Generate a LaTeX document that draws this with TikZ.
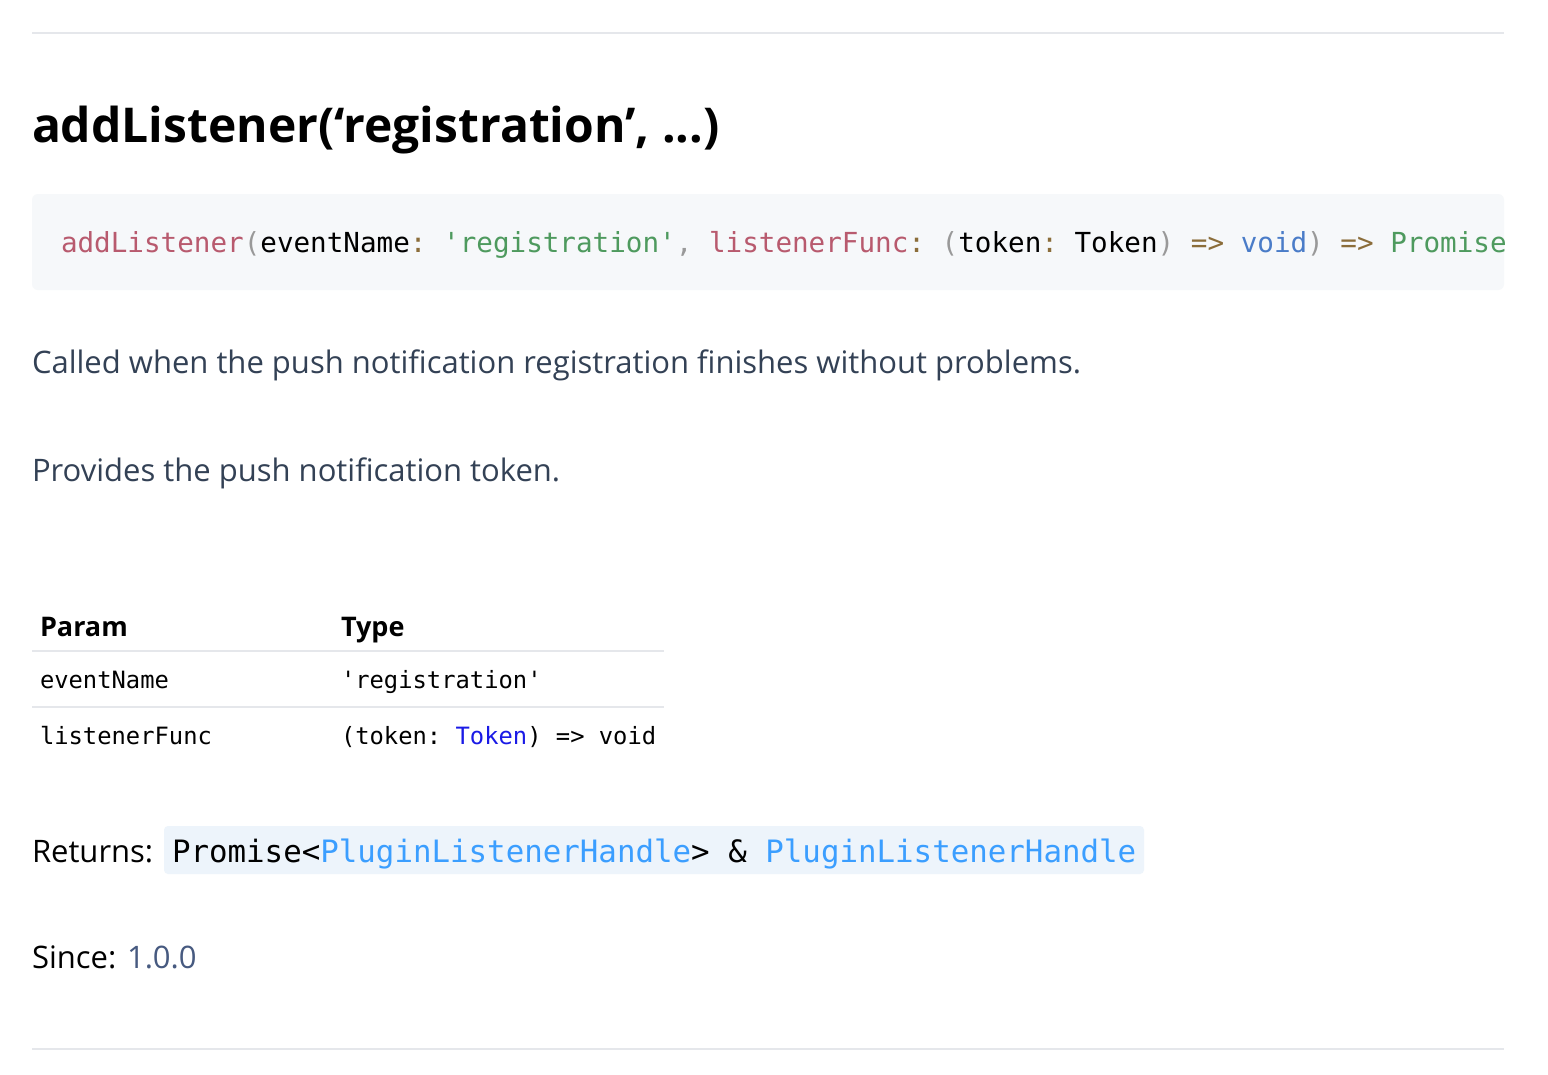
\documentclass[tikz,border=0pt]{standalone}
\usepackage{fontspec}
\setmainfont{Open Sans}
\setmonofont{DejaVu Sans Mono}
\definecolor{rule}{HTML}{E5E7EB}
\definecolor{codebg}{HTML}{F6F8FA}
\definecolor{cpink}{HTML}{B85A6E}
\definecolor{cgreen}{HTML}{4E9A5E}
\definecolor{cbrown}{HTML}{8B6D3A}
\definecolor{cblue}{HTML}{4A7CC8}
\definecolor{cgray}{HTML}{999999}
\definecolor{body}{HTML}{334155}
\definecolor{tblue}{HTML}{1A1AE6}
\definecolor{lnk}{HTML}{3B9EFF}
\definecolor{retbg}{HTML}{EDF4FB}
\definecolor{ver}{HTML}{475A80}
\tikzset{txt/.style={anchor=base west,inner sep=0pt,outer sep=0pt}}
\begin{document}
\begin{tikzpicture}[x=1pt,y=-1pt]
\useasboundingbox (0,0) rectangle (1548,1074);
\fill[white] (0,0) rectangle (1548,1074);
\draw[rule,line width=1.5pt] (32,33) -- (1504,33);
\draw[rule,line width=1.5pt] (32,1049) -- (1504,1049);
\node[txt] (h) at (32,142) {\fontsize{48}{54}\selectfont\bfseries addListener(‘registration’, ...)};
\fill[codebg,rounded corners=6pt] (32,194) rectangle (1504,290);
\begin{scope}
\clip (32,194) rectangle (1504,290);
\node[txt] (code) at (61,252) {\fontsize{27.6}{32}\selectfont\ttfamily\textcolor{cpink}{addListener}\textcolor{cgray}{(}eventName\textcolor{cbrown}{:} \textcolor{cgreen}{'registration'}\textcolor{cgray}{,} \textcolor{cpink}{listenerFunc}\textcolor{cbrown}{:} \textcolor{cgray}{(}token\textcolor{cbrown}{:} Token\textcolor{cgray}{)} \textcolor{cbrown}{=>} \textcolor{cblue}{void}\textcolor{cgray}{)} \textcolor{cbrown}{=>} \textcolor{cgreen}{Promise}};
\end{scope}
\node[txt,text=body] (p1) at (32,373) {\fontsize{31}{36}\selectfont Called when the push notification registration finishes without problems.};
\node[txt,text=body] (p2) at (32,481) {\fontsize{31}{36}\selectfont Provides the push notification token.};
\node[txt] (th1) at (40,636) {\fontsize{27}{30}\selectfont\bfseries Param};
\node[txt] (th2) at (341,636) {\fontsize{27}{30}\selectfont\bfseries Type};
\draw[rule,line width=1.2pt] (32,651) -- (664,651);
\node[txt] (r1a) at (40,688) {\fontsize{23.8}{28}\selectfont\ttfamily eventName};
\node[txt] (r1b) at (341,688) {\fontsize{23.8}{28}\selectfont\ttfamily 'registration'};
\draw[rule,line width=1.2pt] (32,707) -- (664,707);
\node[txt] (r2a) at (40,744) {\fontsize{23.8}{28}\selectfont\ttfamily listenerFunc};
\node[txt] (r2b) at (341,744) {\fontsize{23.8}{28}\selectfont\ttfamily (token: \textcolor{tblue}{Token}) => void};
\node[txt] (ret) at (32,862) {\fontsize{31}{36}\selectfont Returns:};
\fill[retbg,rounded corners=4pt] (164,826) rectangle (1144,874);
\node[txt] (retv) at (172,862) {\fontsize{30.8}{36}\selectfont\ttfamily Promise<\textcolor{lnk}{PluginListenerHandle}> \& \textcolor{lnk}{PluginListenerHandle}};
\node[txt] (since) at (32,968) {\fontsize{31}{36}\selectfont Since: \textcolor{ver}{1.0.0}};
\end{tikzpicture}
\end{document}
